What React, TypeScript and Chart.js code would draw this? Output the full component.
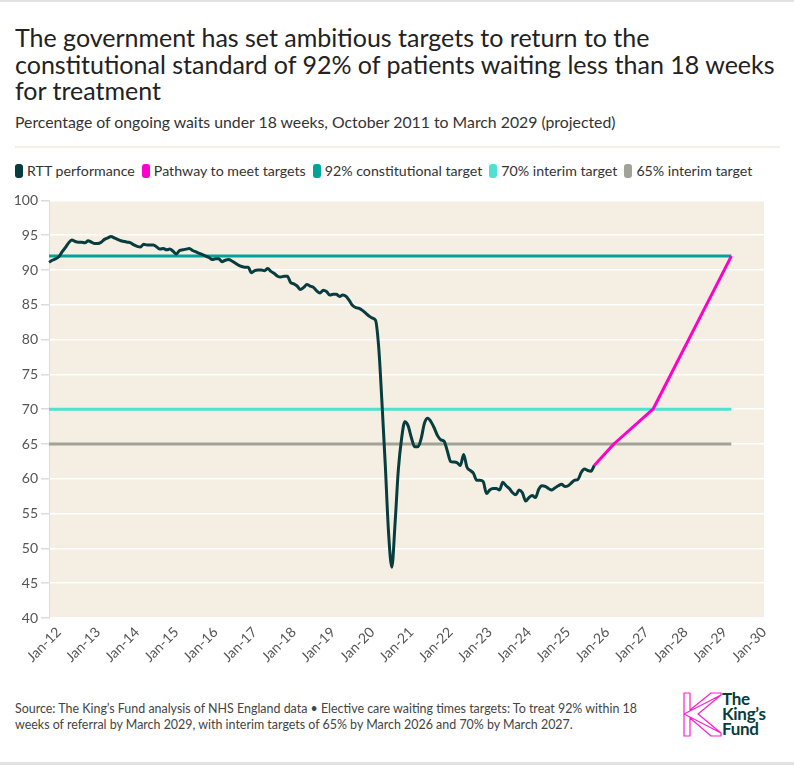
import React, { useEffect, useRef } from 'react';
import { Chart, registerables } from 'chart.js';

Chart.register(...registerables);

// Monthly category axis: Oct-11 through Jan-30
const MONTH_NAMES = ['Jan', 'Feb', 'Mar', 'Apr', 'May', 'Jun', 'Jul', 'Aug', 'Sep', 'Oct', 'Nov', 'Dec'];
const AXIS_START = { year: 2011, month: 9 };
const AXIS_LENGTH = 220;

const monthLabels: string[] = [];
for (let k = 0; k < AXIS_LENGTH; k++) {
  const m = AXIS_START.month + k;
  const y = AXIS_START.year + Math.floor(m / 12);
  monthLabels.push(`${MONTH_NAMES[m % 12]}-${String(y % 100).padStart(2, '0')}`);
}

// RTT performance: % of ongoing waits under 18 weeks, Oct-11 to Sep-25
const rttValues = [
  91.1, 91.4, 91.6, 91.9, 92.6, 93.2, 93.9, 94.3, 94.1, 94.0, 94.0, 93.9,
  94.2, 94.0, 93.8, 93.8, 94.0, 94.4, 94.6, 94.8, 94.6, 94.4, 94.2, 94.1,
  94.0, 93.9, 93.6, 93.4, 93.3, 93.7, 93.6, 93.6, 93.6, 93.3, 93.0, 93.1,
  92.9, 93.0, 92.7, 92.3, 92.8, 92.9, 93.0, 93.1, 92.8, 92.6, 92.4, 92.2,
  92.0, 91.8, 91.5, 91.6, 91.6, 91.2, 91.4, 91.5, 91.3, 91.0, 90.7, 90.5,
  90.4, 90.4, 89.6, 89.9, 90.0, 90.0, 89.9, 90.2, 89.8, 89.5, 89.1, 89.0,
  89.1, 89.1, 88.2, 88.0, 87.7, 87.2, 87.5, 87.9, 87.7, 87.5, 87.0, 86.7,
  87.1, 86.9, 86.4, 86.5, 86.5, 86.2, 86.4, 86.2, 85.6, 84.9, 84.6, 84.5,
  84.2, 83.8, 83.4, 83.1, 82.8, 78.8, 70.8, 62.0, 52.3, 47.3, 53.6, 61.3,
  65.8, 68.2, 67.6, 65.9, 64.6, 64.6, 65.8, 68.0, 68.7, 68.2, 67.3, 66.2,
  65.6, 65.4, 64.0, 62.5, 62.4, 62.3, 61.9, 63.5, 61.7, 61.2, 60.8, 59.8,
  59.8, 59.6, 57.9, 58.4, 58.6, 58.6, 58.4, 59.5, 59.0, 58.6, 58.0, 57.7,
  58.4, 58.0, 56.8, 57.3, 57.6, 57.3, 58.5, 59.0, 58.9, 58.6, 58.4, 58.7,
  59.0, 59.2, 58.9, 59.0, 59.4, 59.8, 59.9, 60.9, 61.4, 61.2, 61.1, 61.9,
];

// Projected pathway to the targets
const pathwayMonths = ['Sep-25', 'Mar-26', 'Mar-27', 'Mar-29'];
const pathwayValues = [61.9, 65, 70, 92];

// Target reference lines
const targetFrom = 'Oct-11';
const targetTo = 'Mar-29';
const constitutionalTarget = 92;
const interimTarget2027 = 70;
const interimTarget2026 = 65;

const yTicks = { min: 40, max: 100, step: 5 };

const COLORS = {
  rtt: '#073d3e',
  pathway: '#ff00cc',
  t92: '#00a399',
  t70: '#4fe1d1',
  t65: '#a1a397',
  plotBg: '#f5eee3',
};

const sparse = (months: string[], values: number[]) => {
  const out: (number | null)[] = monthLabels.map(() => null);
  months.forEach((m, i) => {
    out[monthLabels.indexOf(m)] = values[i];
  });
  return out;
};

const targetLine = (v: number) => sparse([targetFrom, targetTo], [v, v]);

const legendItems = [
  { label: 'RTT performance', color: COLORS.rtt },
  { label: 'Pathway to meet targets', color: COLORS.pathway },
  { label: '92% constitutional target', color: COLORS.t92 },
  { label: '70% interim target', color: COLORS.t70 },
  { label: '65% interim target', color: COLORS.t65 },
];

const plotBackground = {
  id: 'plotBackground',
  beforeDraw(chart: any) {
    const { ctx, chartArea } = chart;
    ctx.save();
    ctx.fillStyle = COLORS.plotBg;
    ctx.fillRect(chartArea.left, chartArea.top, chartArea.right - chartArea.left, chartArea.bottom - chartArea.top);
    ctx.restore();
  },
};

const FONT = 'Lato, "Noto Sans", sans-serif';

function LineChart() {
  const ref = useRef<HTMLCanvasElement | null>(null);

  useEffect(() => {
    if (!ref.current) return;
    const common = { pointRadius: 0, pointHoverRadius: 0, borderCapStyle: 'butt', borderJoinStyle: 'round', fill: false };
    const chart = new Chart(ref.current, {
      type: 'line',
      data: {
        labels: monthLabels,
        datasets: [
          { ...common, label: 'RTT performance', data: rttValues, borderColor: COLORS.rtt, borderWidth: 3, cubicInterpolationMode: 'monotone' },
          { ...common, label: 'Pathway to meet targets', data: sparse(pathwayMonths, pathwayValues), borderColor: COLORS.pathway, borderWidth: 3, spanGaps: true, tension: 0 },
          { ...common, label: '92% constitutional target', data: targetLine(constitutionalTarget), borderColor: COLORS.t92, borderWidth: 3, spanGaps: true },
          { ...common, label: '70% interim target', data: targetLine(interimTarget2027), borderColor: COLORS.t70, borderWidth: 3, spanGaps: true },
          { ...common, label: '65% interim target', data: targetLine(interimTarget2026), borderColor: COLORS.t65, borderWidth: 3, spanGaps: true },
        ],
      } as any,
      options: {
        animation: false,
        responsive: false,
        devicePixelRatio: 1,
        layout: { padding: { top: 9, right: 30, left: 0, bottom: 0 } },
        plugins: { legend: { display: false }, tooltip: { enabled: false } },
        scales: {
          x: {
            type: 'category',
            offset: false,
            grid: { display: false, drawTicks: false },
            border: { display: false },
            ticks: {
              autoSkip: false,
              maxRotation: 45,
              minRotation: 45,
              padding: 6,
              color: '#555',
              font: { family: FONT, size: 14 },
              callback: (_v: any, i: number) => (monthLabels[i].startsWith('Jan') ? monthLabels[i] : null),
            },
            afterFit: (s: any) => {
              s.height = 61;
            },
          },
          y: {
            min: yTicks.min,
            max: yTicks.max,
            ticks: { stepSize: yTicks.step, color: '#555', padding: 3, font: { family: FONT, size: 14 } },
            grid: { color: '#ffffff', lineWidth: 1.5, tickColor: '#dddddd', tickLength: 8, drawTicks: true },
            border: { color: '#dddddd', width: 1 },
            afterFit: (s: any) => {
              s.width = 49;
            },
          },
        },
      } as any,
      plugins: [plotBackground],
    });
    return () => chart.destroy();
  }, []);

  return <canvas ref={ref} width={794} height={490} style={{ display: 'block', width: 794, height: 490 }} />;
}

function Logo() {
  return (
    <div style={{ position: 'absolute', left: 683, top: 690, width: 90, height: 46 }}>
      <svg width={40} height={45} style={{ position: 'absolute', left: 0, top: 0 }}>
        <path
          d="M1,1 L7,1 L7,18 L28,1 L38,1 L38,3 L15,22 L38,41 L38,44 L28,44 L7,26 L7,44 L1,44 Z M1,22 L38,3 M1,22 L38,41"
          fill="none"
          stroke="#ff1fcf"
          strokeWidth={1.2}
          strokeLinejoin="round"
        />
      </svg>
      <div
        style={{
          position: 'absolute',
          left: 39,
          top: -1,
          fontFamily: FONT,
          fontWeight: 700,
          fontSize: 17,
          lineHeight: '15px',
          color: '#073d3e',
          letterSpacing: -0.3,
        }}
      >
        <div>The</div>
        <div>King’s</div>
        <div>Fund</div>
      </div>
    </div>
  );
}

export default function App() {
  useEffect(() => {
    document.body.style.margin = '0';
  }, []);

  return (
    <div
      style={{
        position: 'relative',
        width: 794,
        height: 765,
        background: '#ffffff',
        fontFamily: FONT,
        overflow: 'hidden',
        boxSizing: 'border-box',
        borderTop: '2px solid #e2e2e2',
      }}
    >
      <div style={{ position: 'absolute', left: 15, top: 22, fontSize: 25, lineHeight: '26.5px', color: '#222', whiteSpace: 'nowrap' }}>
        <div>The government has set ambitious targets to return to the</div>
        <div>constitutional standard of 92% of patients waiting less than 18 weeks</div>
        <div>for treatment</div>
      </div>
      <div style={{ position: 'absolute', left: 15, top: 110, fontSize: 15.8, lineHeight: '20px', color: '#333', whiteSpace: 'nowrap' }}>
        Percentage of ongoing waits under 18 weeks, October 2011 to March 2029 (projected)
      </div>
      <div style={{ position: 'absolute', left: 15, top: 144, width: 765, height: 2, background: '#f5efe4' }} />

      <div style={{ position: 'absolute', left: 15, top: 160, display: 'flex', alignItems: 'center', fontSize: 14.2, color: '#333', whiteSpace: 'nowrap' }}>
        {legendItems.map((it) => (
          <div key={it.label} style={{ display: 'flex', alignItems: 'center', marginRight: 7 }}>
            <span style={{ display: 'inline-block', width: 8, height: 14, borderRadius: 3, background: it.color, marginRight: 4 }} />
            <span>{it.label}</span>
          </div>
        ))}
      </div>

      <div style={{ position: 'absolute', left: 0, top: 187 }}>
        <LineChart />
      </div>

      <div style={{ position: 'absolute', left: 15, top: 699, fontSize: 12.45, lineHeight: '16px', color: '#444', whiteSpace: 'nowrap' }}>
        <div>Source: The King’s Fund analysis of NHS England data • Elective care waiting times targets: To treat 92% within 18</div>
        <div>weeks of referral by March 2029, with interim targets of 65% by March 2026 and 70% by March 2027.</div>
      </div>

      <Logo />

      <div style={{ position: 'absolute', left: 0, bottom: 0, width: 794, height: 3, background: '#e2e2e2' }} />
    </div>
  );
}
